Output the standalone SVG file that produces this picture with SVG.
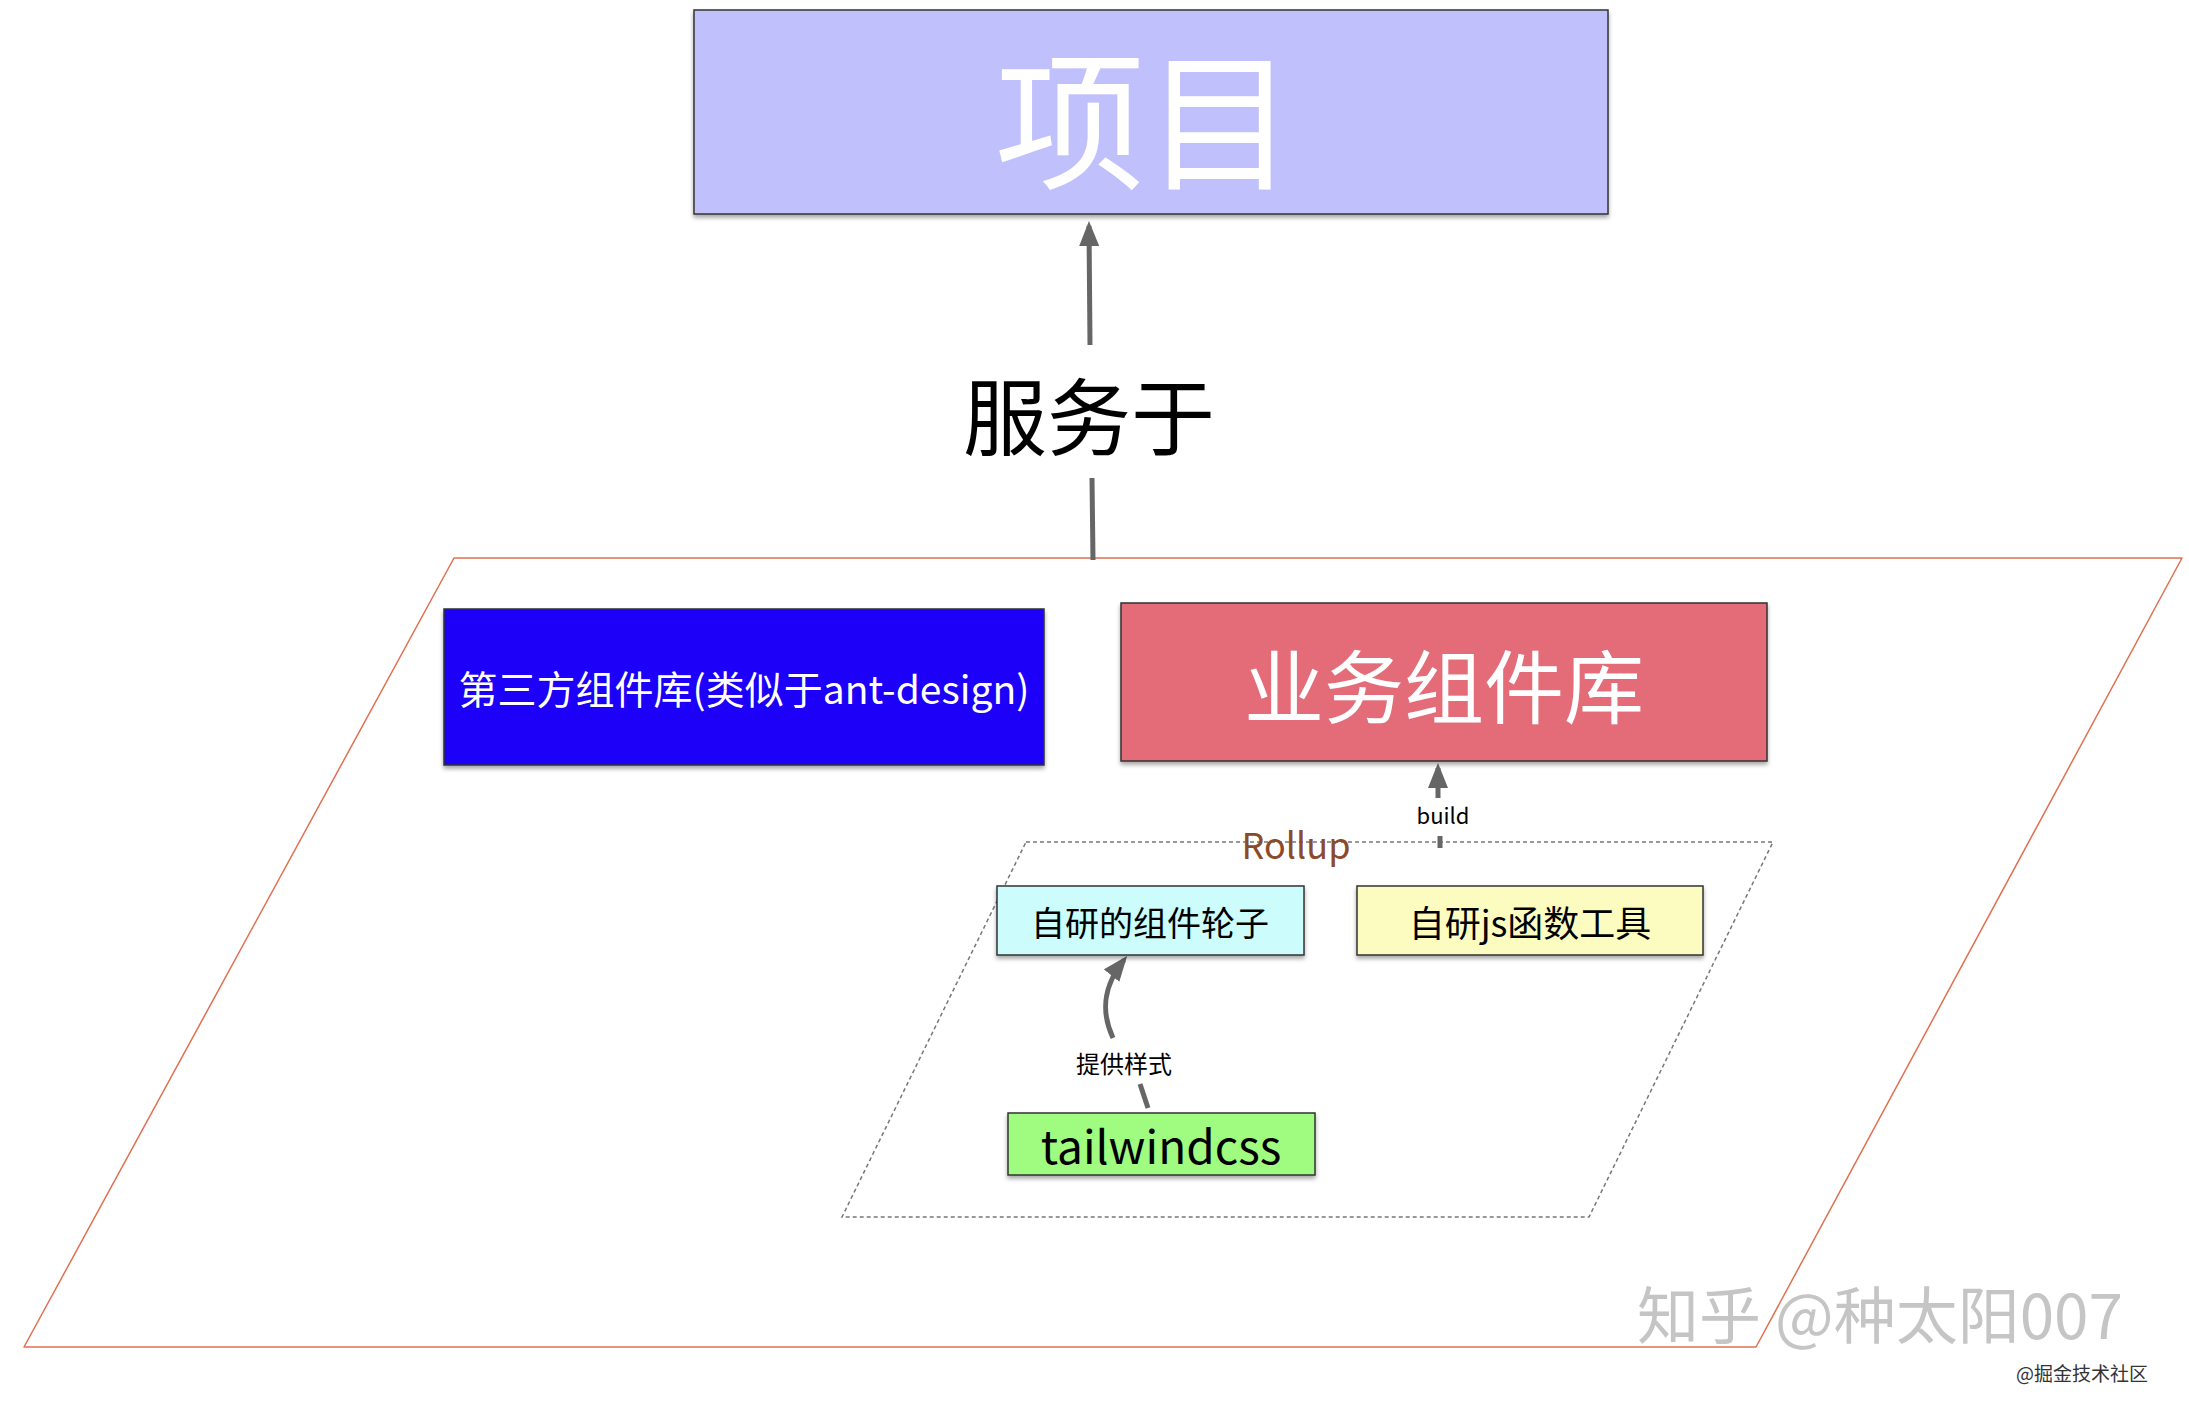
<svg xmlns="http://www.w3.org/2000/svg" width="2189" height="1405" viewBox="0 0 2189 1405">
<style>
text{font-family:"Noto Sans CJK SC","Liberation Sans",sans-serif;text-anchor:middle;dominant-baseline:central}
.box{stroke:#333;stroke-width:1.5}
.conn{stroke:#666;stroke-width:5;fill:none}
</style>
<defs>
<marker id="ah" markerWidth="5" markerHeight="4" refX="4" refY="2" orient="auto" markerUnits="strokeWidth"><path d="M0,0 L5,2 L0,4 Z" fill="#666"/></marker>
<filter id="sh" x="-5%" y="-5%" width="110%" height="120%"><feDropShadow dx="0" dy="3" stdDeviation="2" flood-color="#000" flood-opacity="0.35"/></filter>
</defs>
<rect width="2189" height="1405" fill="#fff"/>
<g id="platform"><path d="M454,558 L2182,558 L1756,1347 L24,1347 Z" fill="none" stroke="#e07050" stroke-width="1.5" stroke-linejoin="round"/></g>
<g id="rollup"><path d="M1026,842 L1773,842 L1589,1217 L842,1217 Z" fill="none" stroke="#777" stroke-width="1.5" stroke-dasharray="4,3"/>
<text x="1296" y="843" font-size="36" fill="#8b4a2a">Rollup</text></g>
<g id="connectors">
<path class="conn" d="M1093,560 L1092,478"/><path class="conn" d="M1090,345 L1089,226" marker-end="url(#ah)"/>
<text x="1089" y="412" font-size="84" fill="#000">服务于</text>
<path class="conn" d="M1440,848 L1440,836" stroke-width="4"/><path class="conn" d="M1438,798 L1438,768" stroke-width="4" marker-end="url(#ah)"/>
<text x="1443" y="814" font-size="22" fill="#000">build</text>
<path class="conn" d="M1148,1108 L1140,1084" stroke-width="4"/><path class="conn" d="M1113,1038 C1100,1010 1104,985 1124,960" stroke-width="4" marker-end="url(#ah)"/>
<text x="1124" y="1062" font-size="24" fill="#000">提供样式</text>
</g>
<g id="project"><rect class="box" x="694" y="10" width="914" height="204" fill="#c0c0fc" filter="url(#sh)"/><text x="1145" y="112" font-size="150" fill="#fff">项目</text></g>
<g id="thirdparty"><rect class="box" x="444" y="609" width="600" height="156" fill="#1a00f8" filter="url(#sh)"/><text x="744" y="687" font-size="39" fill="#fff">第三方组件库(类似于ant-design)</text></g>
<g id="business"><rect class="box" x="1121" y="603" width="646" height="158" fill="#e46c78" filter="url(#sh)"/><text x="1444" y="682" font-size="80" fill="#fff">业务组件库</text></g>
<g id="wheels"><rect class="box" x="997" y="886" width="307" height="69" fill="#ccfcfc" filter="url(#sh)"/><text x="1150" y="921" font-size="34" fill="#000">自研的组件轮子</text></g>
<g id="jstools"><rect class="box" x="1357" y="886" width="346" height="69" fill="#fcfcc0" filter="url(#sh)"/><text x="1530" y="921" font-size="36" fill="#000">自研js函数工具</text></g>
<g id="tailwind"><rect class="box" x="1008" y="1113" width="307" height="62" fill="#a0fc80" filter="url(#sh)"/><text x="1161" y="1144" font-size="46" fill="#000">tailwindcss</text></g>
<text x="1880" y="1312" font-size="62" fill="#bbb" opacity="0.85">知乎 @种太阳007</text>
<text x="2082" y="1372" font-size="19" fill="#333">@掘金技术社区</text>
</svg>
